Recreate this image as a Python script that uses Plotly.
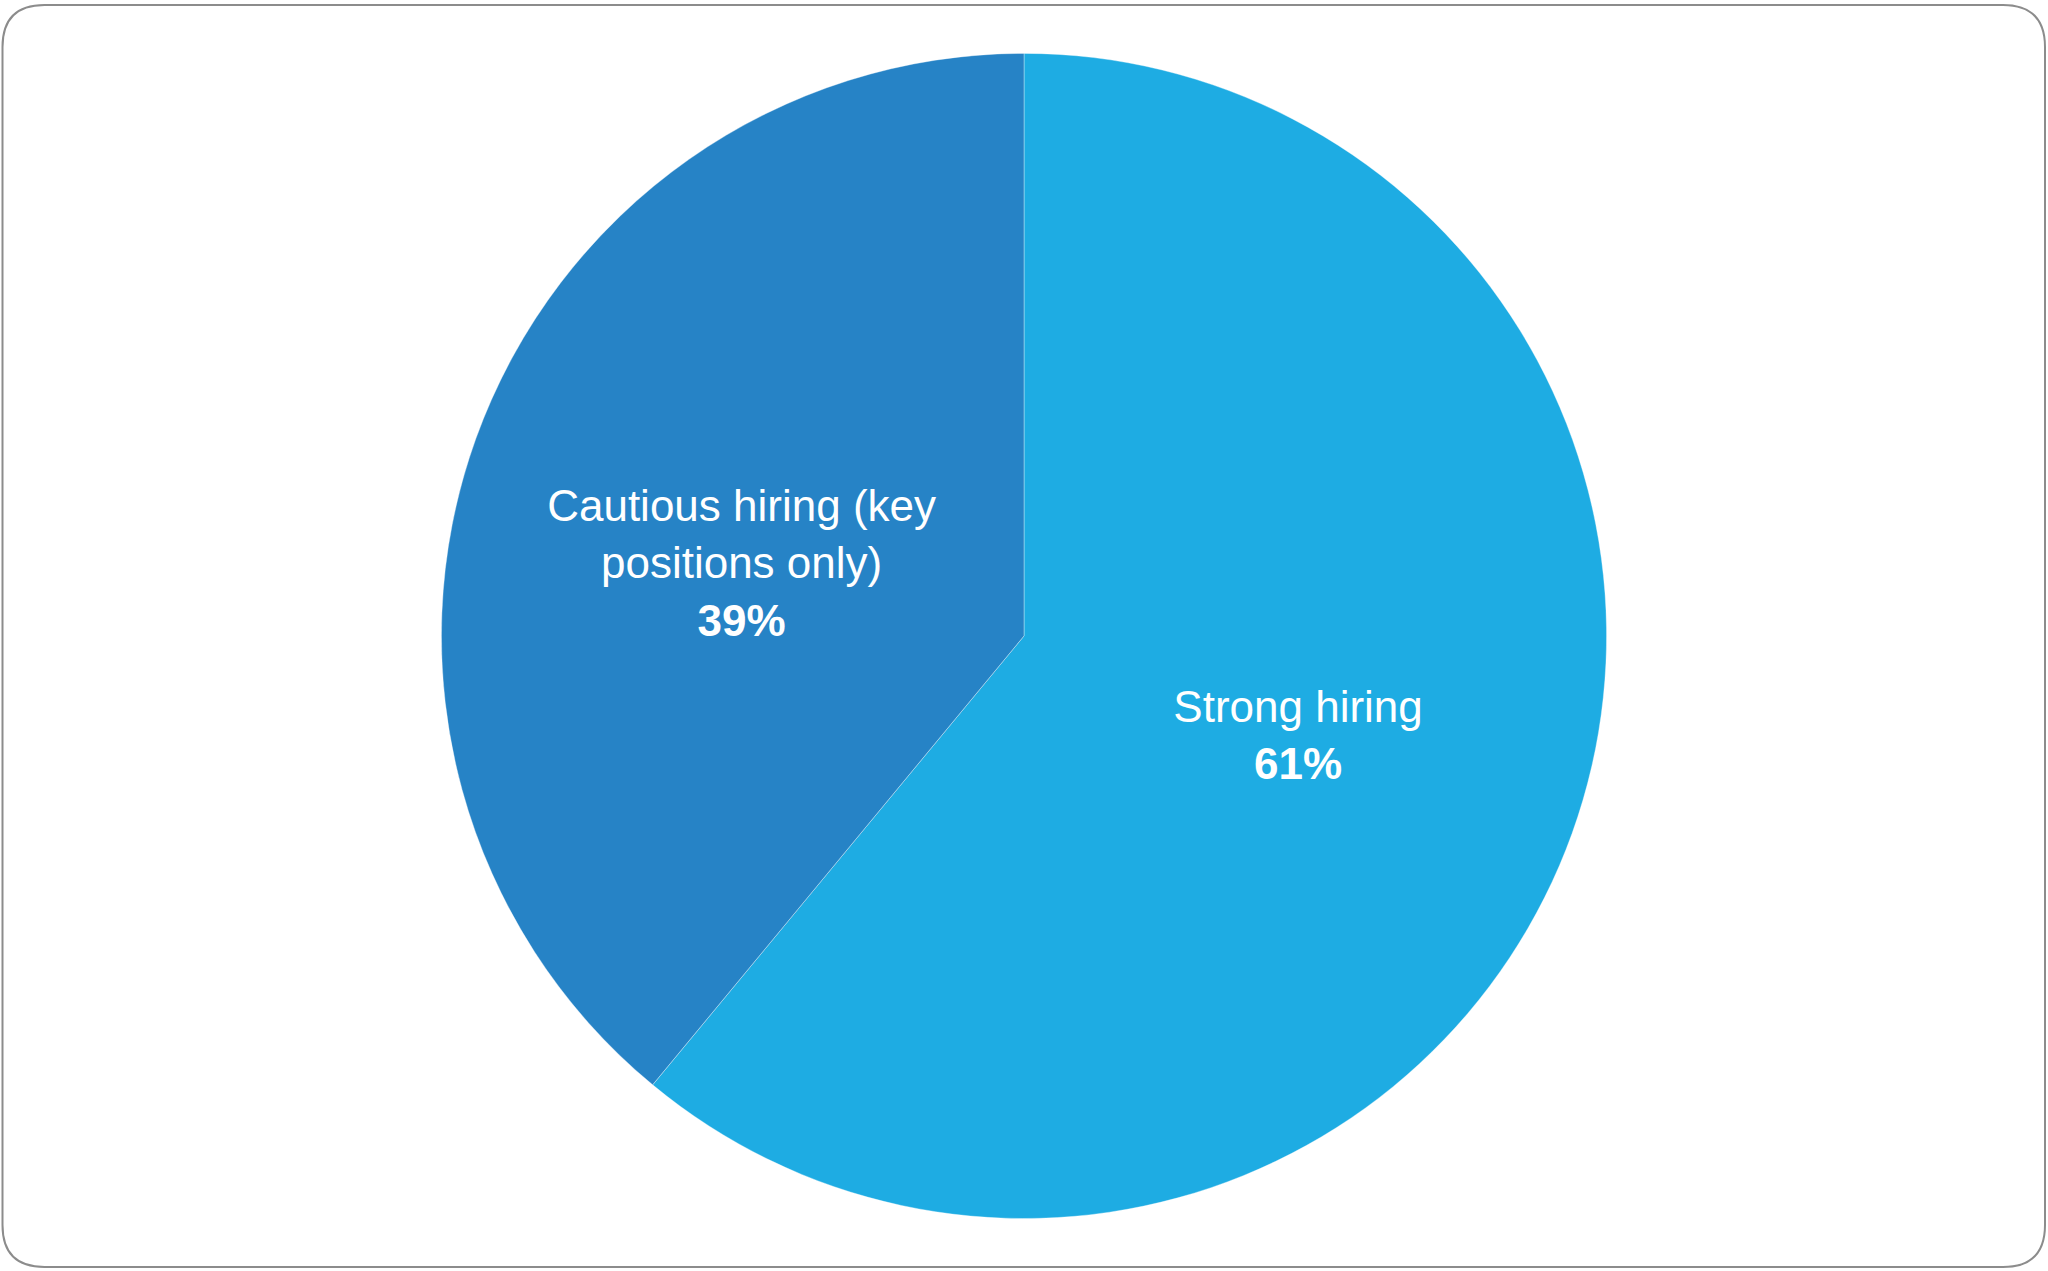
import plotly.graph_objects as go

W, H = 2048, 1271

labels = ["Strong hiring", "Cautious hiring (key<br>positions only)"]
values = [61, 39]
colors = ["#1EACE3", "#2683C6"]
# a leading blank line nudges the second label down toward where the reference puts it
text_templates = [
    "%{label}<br><b>%{percent:.0%}</b>",
    "\u00a0<br>%{label}<br><b>%{percent:.0%}</b>",
]


def _px(x, y):
    # page pixels -> paper coordinates (margins are zero)
    return x / W, 1 - y / H


def _rounded_rect(x0, y0, x1, y1, r):
    pts = []
    a = _px(x0 + r, y0); pts.append(f"M {a[0]},{a[1]}")
    b = _px(x1 - r, y0); pts.append(f"L {b[0]},{b[1]}")
    c = _px(x1, y0); d = _px(x1, y0 + r); pts.append(f"Q {c[0]},{c[1]} {d[0]},{d[1]}")
    e = _px(x1, y1 - r); pts.append(f"L {e[0]},{e[1]}")
    f = _px(x1, y1); g = _px(x1 - r, y1); pts.append(f"Q {f[0]},{f[1]} {g[0]},{g[1]}")
    h = _px(x0 + r, y1); pts.append(f"L {h[0]},{h[1]}")
    i = _px(x0, y1); j = _px(x0, y1 - r); pts.append(f"Q {i[0]},{i[1]} {j[0]},{j[1]}")
    k = _px(x0, y0 + r); pts.append(f"L {k[0]},{k[1]}")
    m = _px(x0, y0); pts.append(f"Q {m[0]},{m[1]} {a[0]},{a[1]} Z")
    return " ".join(pts)


fig = go.Figure(
    go.Pie(
        labels=labels,
        values=values,
        sort=False,
        direction="clockwise",
        rotation=0,
        marker=dict(colors=colors, line=dict(color="rgba(255,255,255,0.35)", width=1)),
        texttemplate=text_templates,
        textposition="inside",
        insidetextorientation="horizontal",
        textfont=dict(family="Liberation Sans, Arial, sans-serif", size=44, color="white"),
        domain=dict(x=[0, 1], y=[0.0413, 0.958]),
        showlegend=False,
        hoverinfo="label+percent",
    )
)

fig.add_shape(
    type="path",
    xref="paper",
    yref="paper",
    path=_rounded_rect(2.5, 5, 2045, 1267, 42),
    line=dict(color="#8c8c8c", width=2),
    fillcolor="rgba(0,0,0,0)",
    layer="above",
)

fig.update_layout(
    width=W,
    height=H,
    margin=dict(l=0, r=0, t=0, b=0),
    paper_bgcolor="white",
    plot_bgcolor="white",
    font=dict(family="Liberation Sans, Arial, sans-serif"),
)

fig.write_html(
    "out.html",
    config={"displayModeBar": False},
    post_script="document.body.style.margin='0'; document.body.style.overflow='hidden';",
)
